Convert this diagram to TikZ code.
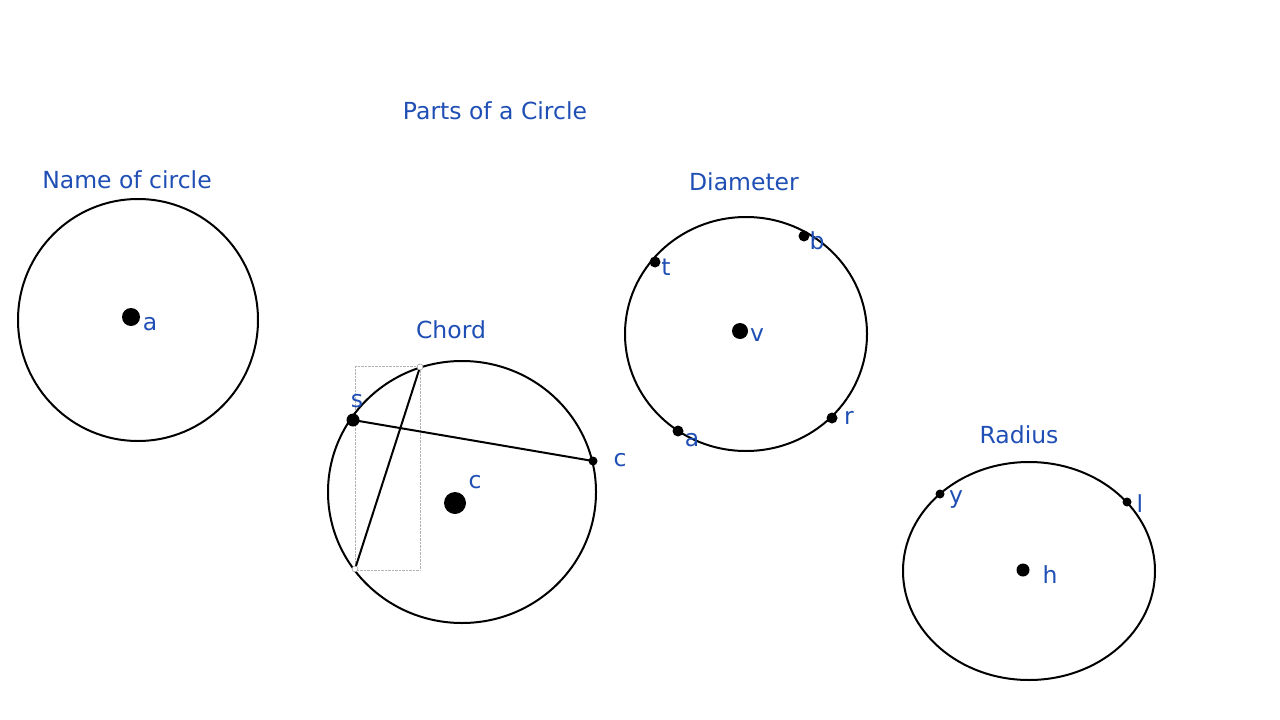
\documentclass[tikz,border=0pt]{standalone}
\usepackage{fontspec}
\setmainfont{DejaVu Sans}
\definecolor{lbl}{HTML}{1F4FB5}
\begin{document}
\begin{tikzpicture}[x=1pt,y=-1pt,
  ring/.style={draw=black,line width=2pt},
  txt/.style={text=lbl,font=\fontsize{23.5}{26}\selectfont,inner sep=0pt},
  dot/.style={circle,fill=black,inner sep=0pt,minimum size=#1},
  odot/.style={circle,draw=gray,fill=white,inner sep=0pt,minimum size=6pt}]
\useasboundingbox (0,0) rectangle (1280,720);
\node[txt] (title) at (495,111) {Parts of a Circle};
% name of circle
\node[txt] (t1) at (127,180) {Name of circle};
\draw[ring] (138,320) ellipse [x radius=120, y radius=121];
\node[dot=18pt] (na) at (131,317) {};
\node[txt] (la) at (150,324) {a};
% chord
\node[txt] (t2) at (451,330) {Chord};
\draw[densely dotted,gray!60] (355,366) rectangle (420,570);
\draw[ring] (462,492) ellipse [x radius=134, y radius=131];
\node[dot=13pt] (s) at (353,420) {};
\node[dot=9pt] (c1) at (593,461) {};
\node[odot] (top) at (420,367) {};
\node[odot] (bot) at (355,569) {};
\draw[line width=2pt] (s.center) -- (c1.center);
\draw[line width=2pt] (top) -- (bot);
\node[dot=22pt] (cc) at (455,503) {};
\node[txt] (ls) at (357,401) {s};
\node[txt] (lc1) at (620,460) {c};
\node[txt] (lc2) at (475,482) {c};
% diameter
\node[txt] (t3) at (744,182) {Diameter};
\draw[ring] (746,334) ellipse [x radius=121, y radius=117];
\node[dot=11pt] (pt) at (655,262) {};
\node[dot=11pt] (pb) at (804,236) {};
\node[dot=16pt] (pv) at (740,331) {};
\node[dot=11pt] (pa) at (678,431) {};
\node[dot=11pt] (pr) at (832,418) {};
\node[txt] (lt) at (666,267) {t};
\node[txt] (lb) at (817,241) {b};
\node[txt] (lv) at (757,335) {v};
\node[txt] (la2) at (692,440) {a};
\node[txt] (lr) at (849,418) {r};
% radius
\node[txt] (t4) at (1019,435) {Radius};
\draw[ring] (1029,571) ellipse [x radius=126, y radius=109];
\node[dot=9pt] (py) at (940,494) {};
\node[dot=9pt] (pl) at (1127,502) {};
\node[dot=13pt] (ph) at (1023,570) {};
\node[txt] (ly) at (956,500) {y};
\node[txt] (ll) at (1140,504) {l};
\node[txt] (lh) at (1050,575) {h};
\end{tikzpicture}
\end{document}
